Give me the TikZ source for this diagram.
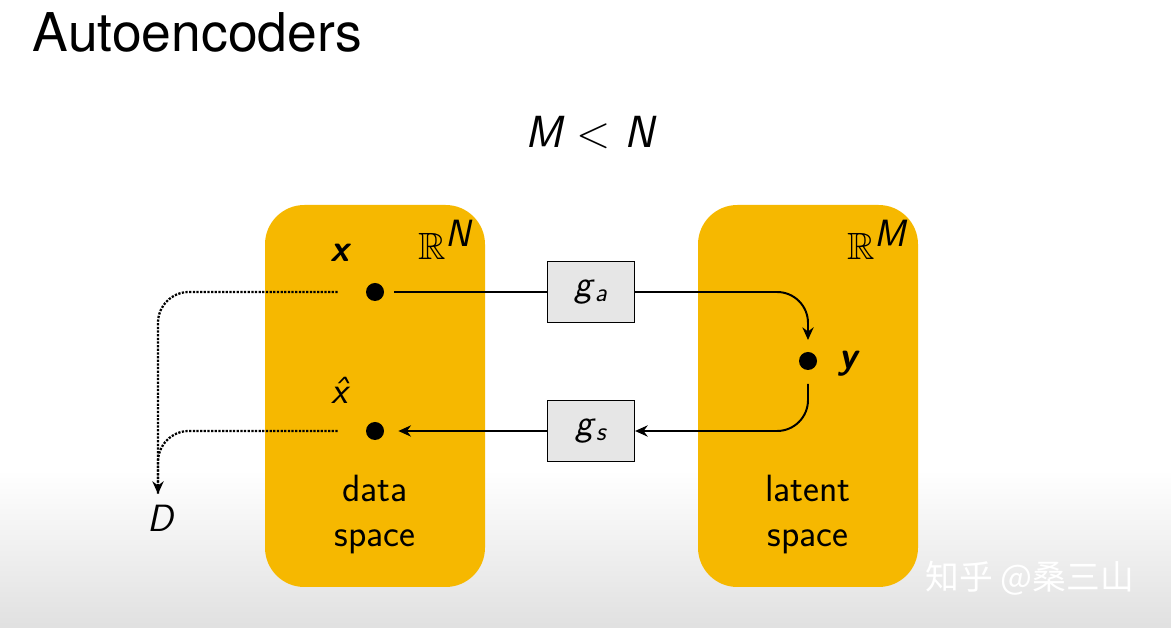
\documentclass[tikz,border=0pt]{standalone}
\usepackage{amssymb}
\usepackage{fontspec}
\setsansfont{Latin Modern Sans}
\newfontfamily\heros{TeX Gyre Heros}
\newfontfamily\cjk{Noto Sans CJK SC}
\usetikzlibrary{positioning,arrows.meta}

\definecolor{spacegold}{HTML}{F6B800}
\definecolor{boxgray}{HTML}{E6E6E6}

\tikzset{
  space/.style={fill=spacegold, rounded corners=28, minimum width=220*0.025cm, minimum height=382*0.025cm},
  fbox/.style={draw, thick, fill=boxgray, minimum width=87*0.025cm, minimum height=61*0.025cm, font=\sffamily\fontsize{27}{27}\selectfont},
  pt/.style={circle, fill, inner sep=0pt, minimum size=0.45cm},
  lbl/.style={font=\sffamily\fontsize{27}{32}\selectfont, align=center},
  flow/.style={-{Stealth[length=9pt,width=8pt]}, line width=1.4pt, rounded corners=22},
  dist/.style={densely dotted, line width=1.6pt, rounded corners=22}
}

\begin{document}
\begin{tikzpicture}[x=0.025cm, y=-0.025cm]
  % background
  \fill[white] (0,0) rectangle (1171,628);
  \shade[top color=white, bottom color=black!12] (0,470) rectangle (1171,628);
  \useasboundingbox (0,0) rectangle (1171,628);

  \node[anchor=west, font=\heros\fontsize{38}{38}\selectfont] (title) at (28,32) {Autoencoders};
  \node[font=\sffamily\itshape\fontsize{32}{32}\selectfont] (cond) at (590,133) {M \upshape<\itshape\ N};

  % the two spaces
  \node[space] (data)   at (375,396) {};
  \node[space] (latent) at (808,396) {};
  \node[lbl] (rn) at (445,240) {$\mathbb{R}^{\textit{\sffamily N}}$};
  \node[lbl] (rm) at (877,240) {$\mathbb{R}^{\textit{\sffamily M}}$};
  \node[lbl] (datatxt)   at (375,515) {data\\space};
  \node[lbl] (latenttxt) at (808,515) {latent\\space};

  % points
  \node[pt] (x)    at (375,292) {};
  \node[pt] (xhat) at (375,431) {};
  \node[pt] (y)    at (808,361) {};
  \node[lbl] (xl)    at (340,253) {\bfseries\itshape x};
  \node[lbl] (xhatl) at (340,390) {\itshape\^{x}};
  \node[lbl] (yl)    at (848,364) {\bfseries\itshape y};

  % transforms
  \node[fbox] (ga) at (591,292) {\textit{g}\textsubscript{\itshape a}};
  \node[fbox] (gs) at (591,431) {\textit{g}\textsubscript{\itshape s}};

  \coordinate (ytop) at (808,340);
  \coordinate (ybot) at (808,384);
  \draw[line width=1.4pt] (x.east) ++(10,0) -- (ga.west);
  \draw[flow] (ga.east) -| (ytop);
  \draw[flow] (ybot) |- (gs.east);
  \draw[flow] (gs.west) -- ([xshift=10]xhat.east);

  % distortion
  \node[font=\sffamily\itshape\fontsize{27}{27}\selectfont] (D) at (160,518) {D};
  \coordinate (dtip) at (158,494);
  \draw[dist] ([xshift=-20]x.west) -| (dtip);
  \draw[dist,-{Stealth[length=9pt,width=8pt]}] ([xshift=-20]xhat.west) -| (dtip);

  \node[text=white, font=\cjk\fontsize{24}{24}\selectfont] (wm) at (1030,578) {知乎 @桑三山};
\end{tikzpicture}
\end{document}
